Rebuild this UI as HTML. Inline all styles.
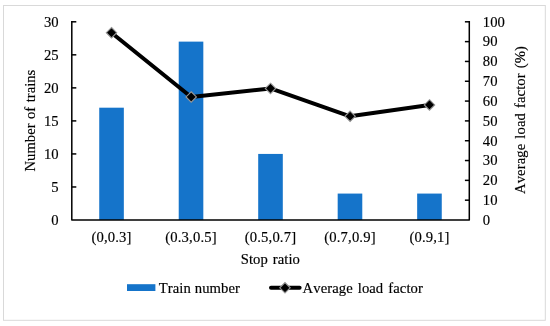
<!DOCTYPE html>
<html><head><meta charset="utf-8"><title>Chart</title>
<style>
html,body{margin:0;padding:0;background:#fff;}
body{width:550px;height:326px;overflow:hidden;}
svg{display:block;}
text{font-family:"Liberation Serif","Times New Roman",serif;font-size:14.67px;fill:#000;font-kerning:none;word-spacing:1.3px;stroke:#000;stroke-width:0.16px;}
</style></head><body>
<svg width="550" height="326" viewBox="0 0 550 326">
<rect x="0" y="0" width="550" height="326" fill="#fff"/>
<rect x="3.5" y="5.5" width="541.8" height="314.8" fill="none" stroke="#d9d9d9" stroke-width="1"/>
<rect x="99.24" y="107.69" width="24.6" height="112.31" fill="#1574CA"/>
<rect x="178.72" y="41.62" width="24.6" height="178.38" fill="#1574CA"/>
<rect x="258.20" y="153.93" width="24.6" height="66.07" fill="#1574CA"/>
<rect x="337.68" y="193.57" width="24.6" height="26.43" fill="#1574CA"/>
<rect x="417.16" y="193.57" width="24.6" height="26.43" fill="#1574CA"/>
<g stroke="#000" stroke-width="1.5" fill="none">
<path d="M71.8 21.0V220.1H469.3V21.0" stroke-linejoin="round"/>
<path d="M71.8 186.97H76.3"/>
<path d="M71.8 153.93H76.3"/>
<path d="M71.8 120.90H76.3"/>
<path d="M71.8 87.87H76.3"/>
<path d="M71.8 54.83H76.3"/>
<path d="M71.8 21.80H76.3"/>
<path d="M464.9 200.18H469.2"/>
<path d="M464.9 180.36H469.2"/>
<path d="M464.9 160.54H469.2"/>
<path d="M464.9 140.72H469.2"/>
<path d="M464.9 120.90H469.2"/>
<path d="M464.9 101.08H469.2"/>
<path d="M464.9 81.26H469.2"/>
<path d="M464.9 61.44H469.2"/>
<path d="M464.9 41.62H469.2"/>
<path d="M464.9 21.80H469.2"/>
</g>
<path d="M111.5 32.7 L191.2 96.95 L270.5 88.4 L350.1 116.3 L429.5 104.9" fill="none" stroke="#000" stroke-width="4" stroke-linejoin="round" stroke-linecap="round"/>
<path d="M111.50 27.50L116.70 32.70L111.50 37.90L106.30 32.70Z" fill="#000" stroke="#969696" stroke-width="1.1"/>
<path d="M191.20 91.75L196.40 96.95L191.20 102.15L186.00 96.95Z" fill="#000" stroke="#969696" stroke-width="1.1"/>
<path d="M270.50 83.20L275.70 88.40L270.50 93.60L265.30 88.40Z" fill="#000" stroke="#969696" stroke-width="1.1"/>
<path d="M350.10 111.10L355.30 116.30L350.10 121.50L344.90 116.30Z" fill="#000" stroke="#969696" stroke-width="1.1"/>
<path d="M429.50 99.70L434.70 104.90L429.50 110.10L424.30 104.90Z" fill="#000" stroke="#969696" stroke-width="1.1"/>
<text x="58.6" y="224.80" text-anchor="end">0</text>
<text x="58.6" y="191.77" text-anchor="end">5</text>
<text x="58.6" y="158.73" text-anchor="end">10</text>
<text x="58.6" y="125.70" text-anchor="end">15</text>
<text x="58.6" y="92.67" text-anchor="end">20</text>
<text x="58.6" y="59.63" text-anchor="end">25</text>
<text x="58.6" y="26.60" text-anchor="end">30</text>
<text x="482.8" y="224.80">0</text>
<text x="482.8" y="204.98">10</text>
<text x="482.8" y="185.16">20</text>
<text x="482.8" y="165.34">30</text>
<text x="482.8" y="145.52">40</text>
<text x="482.8" y="125.70">50</text>
<text x="482.8" y="105.88">60</text>
<text x="482.8" y="86.06">70</text>
<text x="482.8" y="66.24">80</text>
<text x="482.8" y="46.42">90</text>
<text x="482.8" y="26.60">100</text>
<text x="111.54" y="242.0" text-anchor="middle" letter-spacing="0.15">(0,0.3]</text>
<text x="191.02" y="242.0" text-anchor="middle" letter-spacing="0.15">(0.3,0.5]</text>
<text x="270.50" y="242.0" text-anchor="middle" letter-spacing="0.15">(0.5,0.7]</text>
<text x="349.98" y="242.0" text-anchor="middle" letter-spacing="0.15">(0.7,0.9]</text>
<text x="429.46" y="242.0" text-anchor="middle" letter-spacing="0.15">(0.9,1]</text>
<text x="270.3" y="263.5" text-anchor="middle" letter-spacing="0.05">Stop ratio</text>
<text transform="translate(35.2 120.6) rotate(-90)" text-anchor="middle" style="word-spacing:0.8px">Number of trains</text>
<text transform="translate(525.3 120) rotate(-90)" text-anchor="middle" letter-spacing="0.09">Average load factor (%)</text>
<rect x="127" y="284.2" width="28.4" height="6.8" fill="#1574CA"/>
<text x="158.8" y="292.8" style="word-spacing:0.2px" letter-spacing="0.06">Train number</text>
<path d="M271 287.8H299.6" stroke="#000" stroke-width="4" stroke-linecap="round"/>
<path d="M285.00 282.60L290.20 287.80L285.00 293.00L279.80 287.80Z" fill="#000" stroke="#969696" stroke-width="1.1"/>
<text x="302.6" y="292.8" letter-spacing="0.07">Average load factor</text>
</svg>
</body></html>
